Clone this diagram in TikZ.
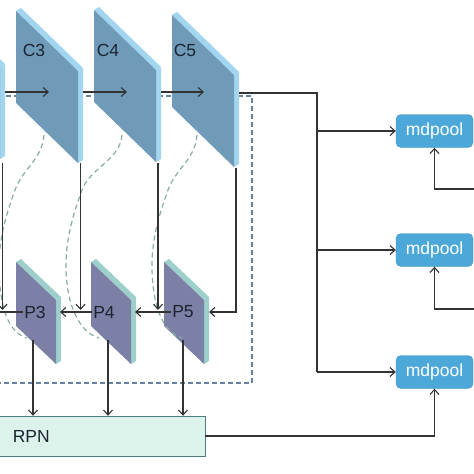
\documentclass[tikz,border=0pt]{standalone}
\usepackage{fontspec}
\setmainfont{Liberation Sans}
\usetikzlibrary{positioning,arrows.meta,calc}

\definecolor{cface}{HTML}{6F9BB9}
\definecolor{cedge}{HTML}{A2D5F0}
\definecolor{pface}{HTML}{7C80A7}
\definecolor{pedge}{HTML}{9DCFCB}
\definecolor{poolblue}{HTML}{4DA8DA}
\definecolor{rpnfill}{HTML}{DCF3EC}
\definecolor{framegray}{HTML}{6483A0}
\definecolor{curvegreen}{HTML}{86ACA3}
\definecolor{inkdark}{HTML}{1C2430}

% x, y, width, slope, height, face, edge
\newcommand{\slab}[7]{%
  \fill[#7] (#1,#2) -- ++(#3,#4) -- ++(5,-3) -- ++(-#3,-#4) -- cycle;
  \fill[#7] ({#1+#3},{#2+#4}) -- ++(5,-3) -- ++(0,#5) -- ++(-5,3) -- cycle;
  \fill[#6] (#1,#2) -- ++(#3,#4) -- ++(0,#5) -- ++(-#3,-#4) -- cycle;
}

\begin{document}
\begin{tikzpicture}[
  x=1pt, y=-1pt,
  every node/.style={font=\fontsize{17.5}{19}\selectfont, inner sep=1pt},
  lbl/.style={text=inkdark},
  arr/.style={draw=black!80, line width=1.1pt, -{Straight Barb[length=5pt,width=9pt]}},
  ln/.style={draw=black!80, line width=1.1pt},
  pool/.style={draw=poolblue!85!black, fill=poolblue, rounded corners=5pt, text=white,
    minimum width=77pt, minimum height=33pt, inner sep=0pt},
  rpnbox/.style={draw=gray!60!teal, fill=rpnfill, anchor=east, text width=169pt,
    inner xsep=23pt, inner ysep=0pt, minimum height=40pt, align=left, text=inkdark},
  curve/.style={draw=curvegreen, line width=1.2pt, dash pattern=on 5pt off 3.5pt},
  frame/.style={draw=framegray, line width=1.2pt, dash pattern=on 5pt off 3pt}
]
\useasboundingbox (0,0) rectangle (474,474);
\clip (0,0) rectangle (474,474);

% dashed frame round the pyramid
\draw[frame] (-10,96) -- (252,96) -- (252,383) -- (-10,383);

% backbone and pyramid planes
\foreach \x/\y in {-62/7, 16/11, 94/10, 172/15}
  \slab{\x}{\y}{62}{60}{92}{cface}{cedge};
\foreach \x in {-59, 16, 91, 164}
  \slab{\x}{262}{40}{38}{64}{pface}{pedge};

\node[lbl] (c3) at (34,50) {C3};
\node[lbl] (c4) at (108,50) {C4};
\node[lbl] (c5) at (185,50) {C5};
\node[lbl] (p3) at (35,312) {P3};
\node[lbl] (p4) at (104,312) {P4};
\node[lbl] (p5) at (183,312) {P5};

\node[pool] (pool1) at (434.5,131) {mdpool};
\node[pool] (pool2) at (434.5,250) {mdpool};
\node[pool] (pool3) at (434.5,372) {mdpool};
\node[rpnbox] (rpn) at (205,436) {RPN};

% connection points on the planes
\coordinate (c2out) at (5,92);
\coordinate (c3in) at (49,92);
\coordinate (c3out) at (83,92);
\coordinate (c4in) at (127,92);
\coordinate (c4out) at (161,92);
\coordinate (c5in) at (204,92);
\coordinate (c5out) at (239,93);
\coordinate (c2bot) at (2.5,163);
\coordinate (c3bot) at (80.5,163);
\coordinate (c4bot) at (158,163);
\coordinate (c5bot) at (236,168);
\coordinate (c2down) at (2.5,310);
\coordinate (c3down) at (80.5,310);
\coordinate (c4down) at (158,310);
\coordinate (p2edge) at (-15,312);
\coordinate (p3edge) at (60,312);
\coordinate (p4edge) at (135,312);
\coordinate (p5edge) at (209,312);
\coordinate (p3foot) at (33,340);
\coordinate (p4foot) at (108,340);
\coordinate (p5foot) at (183,340);
\coordinate (bus1) at (317,131);
\coordinate (bus2) at (317,250);
\coordinate (bus3) at (317,372);
\coordinate (in1) at (480,189);
\coordinate (in2) at (480,309);

% dashed links C -> P
\foreach \cx/\w/\ex in {44/29/27, 122/40/99, 197/29/182}
  \draw[curve] (\cx,135) .. controls ({\cx-2},160) and ({\cx-\w+8},168) .. ({\cx-\w},190)
    .. controls ({\cx-\w-8},212) and ({\cx-\w-17},240) .. ({\cx-\w-16},270)
    .. controls ({\cx-\w-15},305) and ({\ex-20},332) .. (\ex,338);

% bottom-up path
\draw[arr] (c2out) -- (c3in);
\draw[arr] (c3out) -- (c4in);
\draw[arr] (c4out) -- (c5in);

% lateral and top-down path
\draw[arr] (c2bot) -- (c2down);
\draw[arr] (c3bot) -- (c3down);
\draw[arr] (c4bot) -- (c4down);
\draw[arr] (c5bot) |- (p5edge);
\draw[arr] (p5.west) -- (p4edge);
\draw[arr] (p4.west) -- (p3edge);
\draw[arr] (p3.west) -- (p2edge);

% pyramid -> RPN
\draw[arr] (p3foot) -- (p3foot |- rpn.north);
\draw[arr] (p4foot) -- (p4foot |- rpn.north);
\draw[arr] (p5foot) -- (p5foot |- rpn.north);

% features -> mdpool
\draw[ln] (c5out) -| (bus3);
\draw[arr] (bus1) -- (pool1.west);
\draw[arr] (bus2) -- (pool2.west);
\draw[arr] (bus3) -- (pool3.west);
\draw[arr] (in1) -| (pool1.south);
\draw[arr] (in2) -| (pool2.south);
\draw[arr] (rpn.east) -| (pool3.south);
\end{tikzpicture}
\end{document}
